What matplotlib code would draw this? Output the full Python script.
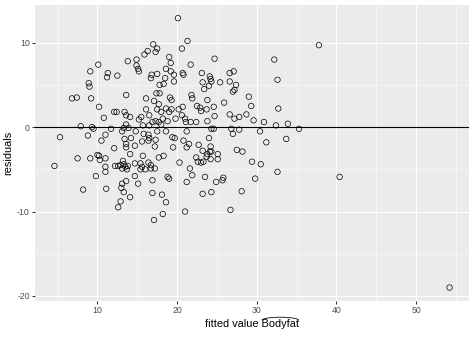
import numpy as np
import matplotlib.pyplot as plt
from matplotlib.lines import Line2D
from matplotlib.ticker import MultipleLocator

# fitted value / residual pairs, grouped by area
pts_left = [(6.8, 3.4), (7.4, 3.5), (5.3, -1.2), (4.6, -4.6), (7.9, 0.1), (7.5, -3.7), (8.2, -7.4)]

pts_upper_mid = [(17.0, 9.8), (16.3, 9.0), (15.9, 8.6), (17.3, 8.9), (17.5, 9.3), (10.1, 7.4), (13.8, 7.8),
                 (14.9, 8.0), (14.9, 7.3), (15.1, 6.9), (15.2, 6.6), (9.1, 6.6), (11.3, 6.4), (11.2, 5.9),
                 (12.5, 6.1), (19.0, 8.3), (19.2, 7.6), (18.6, 6.9), (19.2, 6.6), (17.5, 6.3), (16.8, 6.2),
                 (16.7, 5.8), (18.5, 5.8), (19.6, 6.2), (19.6, 5.4), (17.8, 5.0), (18.3, 5.1), (8.9, 5.2),
                 (9.0, 4.8), (9.2, 3.4), (13.6, 3.8), (16.1, 3.4), (17.4, 4.0), (17.8, 4.0), (19.1, 3.5),
                 (19.3, 3.2), (17.1, 3.1), (17.7, 2.7)]

pts_upper_right = [(21.3, 10.2), (20.6, 9.3), (24.7, 8.1), (21.7, 7.4), (32.2, 8.0), (32.6, 5.6), (20.7, 6.4),
                   (20.8, 6.2), (23.1, 6.4), (24.1, 6.0), (24.2, 5.7), (24.3, 5.4), (23.2, 5.3), (24.0, 4.9),
                   (23.4, 4.5), (25.4, 5.3), (26.6, 6.4), (27.1, 6.6), (26.6, 5.4), (27.4, 5.0), (27.2, 4.4),
                   (27.0, 4.2), (21.8, 3.8), (21.9, 3.4), (23.8, 3.2), (25.9, 2.9), (29.0, 3.6)]

pts_lower_mid = [(10.2, 2.4), (12.1, 1.8), (12.4, 1.8), (13.4, 1.8), (14.1, 1.2), (10.8, 1.1), (13.6, 1.4),
                 (16.1, 2.1), (15.2, 0.9), (15.5, 1.2), (16.5, 1.4), (17.5, 2.1), (18.0, 1.8), (18.6, 2.2),
                 (19.0, 1.8), (19.3, 2.1), (20.2, 2.1), (19.8, 1.0), (18.2, 1.0), (17.3, 0.7), (16.9, 0.6),
                 (17.7, 0.6), (18.8, 0.7), (18.0, 0.3), (16.5, 0.2), (15.7, 0.2), (13.6, 0.3), (13.9, -0.1),
                 (13.3, -0.1), (9.3, 0.0), (9.5, -0.2), (11.7, -0.2), (8.8, -1.0), (11.0, -0.9), (13.1, -0.5),
                 (14.8, -0.5), (15.8, -0.8), (16.4, -0.9), (17.5, -0.5), (18.6, -0.5), (19.4, -1.2),
                 (19.7, -1.3), (10.5, -1.6), (13.4, -1.4), (14.2, -1.3), (16.5, -1.3), (17.3, -1.5),
                 (16.4, -1.6), (15.6, -1.7), (13.6, -2.0), (14.7, -2.2), (17.2, -2.3), (12.1, -2.5),
                 (13.6, -2.4), (19.5, -2.4), (14.1, -3.2), (10.0, -3.3), (10.2, -3.4), (9.1, -3.7),
                 (10.3, -3.9), (11.0, -3.7), (15.7, -3.4), (17.7, -3.6), (18.3, -3.4), (13.2, -4.0),
                 (12.6, -4.6), (12.9, -4.5), (13.3, -4.4), (13.5, -4.7), (13.8, -4.6), (13.1, -4.9),
                 (13.7, -5.0), (12.2, -4.6), (11.0, -4.7), (14.7, -4.3), (15.4, -4.3), (15.6, -4.7),
                 (16.4, -4.2), (16.7, -4.5), (16.7, -4.9), (17.2, -4.9), (15.4, -5.0), (16.0, -5.0),
                 (20.3, -4.2), (11.0, -5.3), (9.8, -5.8), (14.7, -5.8), (18.8, -5.9), (19.0, -6.1),
                 (13.6, -6.4), (13.1, -6.7), (15.1, -6.7), (16.9, -6.3), (11.1, -7.3), (13.0, -7.2),
                 (13.3, -7.7), (14.1, -8.3), (16.9, -7.8), (18.1, -8.0)]

pts_lower_right = [(20.7, 2.4), (22.5, 2.5), (22.9, 2.3), (23.0, 1.9), (23.7, 2.1), (24.6, 2.4), (29.3, 2.5),
                   (32.7, 2.2), (20.6, 1.4), (21.0, 1.0), (21.1, 0.6), (21.7, 0.6), (22.4, 0.6), (23.8, 0.7),
                   (24.7, 1.3), (26.6, 1.5), (27.2, 1.0), (27.8, 1.2), (28.7, 1.5), (29.6, 0.8), (30.9, 0.6),
                   (32.4, 0.2), (24.3, -0.2), (24.6, -0.2), (26.8, -0.2), (27.8, -0.3), (27.0, -0.8),
                   (30.4, -0.5), (21.2, -0.5), (24.0, -1.3), (20.8, -1.6), (31.2, -1.8), (21.5, -2.0),
                   (21.2, -2.4), (22.7, -2.1), (23.2, -2.8), (24.2, -2.3), (24.1, -2.9), (24.3, -2.9),
                   (23.8, -3.2), (23.7, -3.5), (25.1, -3.2), (27.5, -2.7), (28.2, -2.9), (24.2, -3.8),
                   (25.1, -3.8), (22.4, -3.6), (22.6, -4.1), (23.0, -4.2), (23.3, -4.1), (29.4, -4.1),
                   (30.5, -4.4), (21.6, -4.9), (21.9, -5.7), (23.5, -5.9), (21.2, -6.5), (24.9, -6.5),
                   (25.7, -6.3), (25.8, -6.0), (29.8, -6.1), (32.6, -5.3), (24.3, -7.7), (23.2, -7.9),
                   (28.1, -7.6)]

pts_edges = [(33.9, 0.4), (35.3, -0.2), (33.7, -1.4), (12.6, -9.5), (12.9, -8.8), (18.6, -8.9),
             (18.2, -10.3), (17.1, -11.0), (21.0, -10.0), (26.7, -9.8), (20.1, 12.9)]

pts_outliers = [(37.8, 9.7), (40.4, -5.9), (54.2, -19.0)]

all_pts = pts_left + pts_upper_mid + pts_upper_right + pts_lower_mid + pts_lower_right + pts_edges + pts_outliers
fitted = np.array([p[0] for p in all_pts])
residuals = np.array([p[1] for p in all_pts])

plt.rcParams['font.family'] = ['Liberation Sans', 'DejaVu Sans']
plt.rcParams['axes.unicode_minus'] = False

W, H = 474, 338
fig = plt.figure(figsize=(W / 72, H / 72), dpi=72)
left, right, top, bottom = 34.7, 469.3, 4.7, 301.0
ax = fig.add_axes([left / W, 1 - bottom / H, (right - left) / W, (bottom - top) / H])
ax.set_facecolor('#EBEBEB')

ax.scatter(fitted, residuals, s=30, facecolors='none', edgecolors='black', linewidths=0.7, zorder=3)
ax.axhline(0, color='black', lw=1.1, zorder=2)

# ggplot-like 5% expansion
rx = fitted.max() - fitted.min()
ry = residuals.max() - residuals.min()
ax.set_xlim(fitted.min() - 0.05 * rx, fitted.max() + 0.05 * rx)
ax.set_ylim(residuals.min() - 0.05 * ry, residuals.max() + 0.05 * ry)

ax.xaxis.set_major_locator(MultipleLocator(10))
ax.xaxis.set_minor_locator(MultipleLocator(5))
ax.yaxis.set_major_locator(MultipleLocator(10))
ax.yaxis.set_minor_locator(MultipleLocator(5))
ax.grid(which='major', color='white', lw=1.07)
ax.grid(which='minor', color='white', lw=0.53)
ax.set_axisbelow(True)
for s in ax.spines.values():
    s.set_visible(False)
ax.tick_params(which='major', length=2.75, width=1.07, color='#333333', labelcolor='#4D4D4D',
               labelsize=8.8, pad=2.2)
ax.tick_params(which='minor', length=0)

ax.set_xlabel('fitted value Bodyfat', fontsize=11)
ax.xaxis.label.set_va('center')
ax.xaxis.set_label_coords(0.5, -(324 - bottom) / (bottom - top))
ax.set_ylabel('residuals', fontsize=11)
ax.yaxis.label.set_va('center')
ax.yaxis.set_label_coords(-(left - 8) / (right - left), 0.5)

# wide hat over "Bodyfat" (mathtext's \widehat lands off-centre, so draw it)
fig.canvas.draw()
rend = fig.canvas.get_renderer()
lab_bb = ax.xaxis.label.get_window_extent(rend)
tmp = fig.text(0, 0, 'Bodyfat', fontsize=11)
word_w = tmp.get_window_extent(rend).width
tmp.remove()
hx0, hx1 = lab_bb.x1 - word_w + 0.5, lab_bb.x1 - 0.5
cap_top = lab_bb.y1 - 2.0
t = np.linspace(0, 1, 40)
hx = hx0 + (hx1 - hx0) * t
hy = cap_top + 1.0 + 2.8 * np.sin(np.pi * t) ** 0.5
fig.add_artist(Line2D(hx / W, hy / H, transform=fig.transFigure, color='black', lw=0.8))

fig.savefig('out.png', dpi=72)
